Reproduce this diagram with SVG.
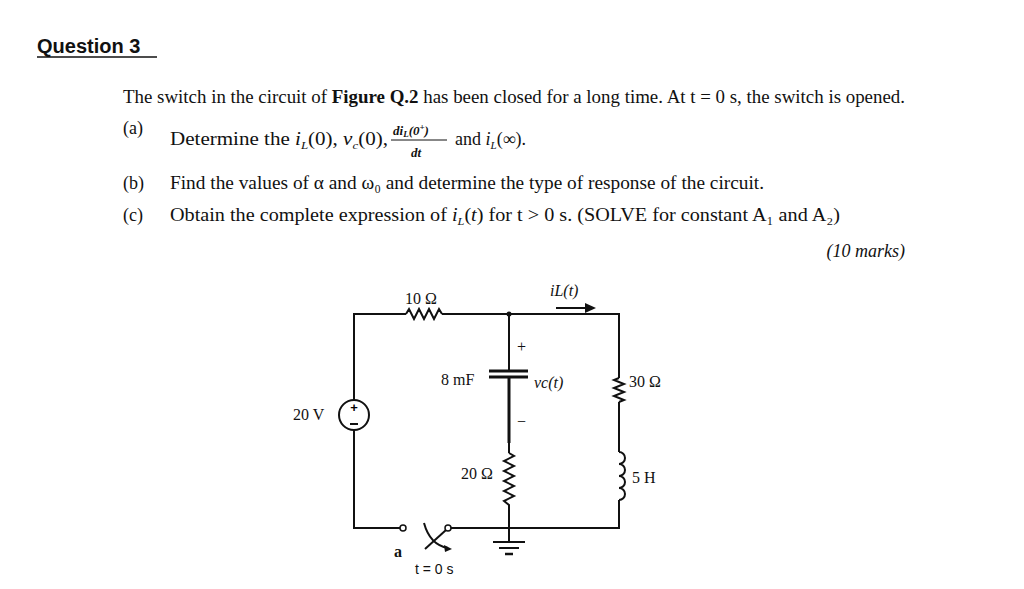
<svg xmlns="http://www.w3.org/2000/svg" width="1024" height="589" viewBox="0 0 1024 589">
<style>
.t{font-family:"Liberation Serif",serif;font-size:18px;fill:#111}
.w{stroke:#111;stroke-width:2;fill:none}
.c{font-family:"Liberation Serif",serif;font-size:16px;fill:#111}
</style>
<rect width="1024" height="589" fill="#fff"/>
<text x="37" y="53" font-family="Liberation Sans,sans-serif" font-size="20" font-weight="bold" fill="#111">Question 3</text>
<line x1="37" y1="57" x2="157" y2="57" stroke="#111" stroke-width="1.5"/>
<text class="t" x="123" y="103" textLength="782" lengthAdjust="spacingAndGlyphs">The switch in the circuit of <tspan font-weight="bold">Figure Q.2</tspan> has been closed for a long time. At t = 0 s, the switch is opened.</text>
<text class="t" x="123" y="134">(a)</text>
<text class="t" x="170" y="145" textLength="218" lengthAdjust="spacingAndGlyphs">Determine the <tspan font-style="italic">i</tspan><tspan font-style="italic" font-size="11" dy="4">L</tspan><tspan dy="-4">(0), </tspan><tspan font-style="italic">v</tspan><tspan font-style="italic" font-size="11" dy="4">c</tspan><tspan dy="-4">(0),</tspan></text>
<text x="393" y="135" font-family="Liberation Serif,serif" font-size="13" font-style="italic" font-weight="bold" fill="#111">di<tspan font-size="9" dy="2">L</tspan><tspan dy="-2">(0</tspan><tspan font-size="9" dy="-5">+</tspan><tspan dy="5">)</tspan></text>
<line x1="391" y1="140" x2="447" y2="140" stroke="#111" stroke-width="1"/>
<text x="411" y="157" font-family="Liberation Serif,serif" font-size="13" font-style="italic" font-weight="bold" fill="#111">dt</text>
<text class="t" x="455" y="145">and <tspan font-style="italic">i</tspan><tspan font-style="italic" font-size="11" dy="4">L</tspan><tspan dy="-4">(∞).</tspan></text>
<text class="t" x="123" y="189">(b)</text>
<text class="t" x="170" y="189" textLength="594" lengthAdjust="spacingAndGlyphs">Find the values of α and ω₀ and determine the type of response of the circuit.</text>
<text class="t" x="123" y="221">(c)</text>
<text class="t" x="170" y="221" textLength="670" lengthAdjust="spacingAndGlyphs">Obtain the complete expression of <tspan font-style="italic">i</tspan><tspan font-style="italic" font-size="11" dy="4">L</tspan><tspan dy="-4">(<tspan font-style="italic">t</tspan>) for t &gt; 0 s.  (SOLVE for constant A₁ and A₂)</tspan></text>
<text class="t" x="905" y="257" text-anchor="end" font-style="italic">(10 marks)</text>

<g id="connectors">
<path class="w" d="M354 400 V314 H406 M442 314 H619 V378 M619 402 V452 M619 500 V528 H448"/>
<path class="w" d="M354 430 V528 H400"/>
<path class="w" d="M509 314 V371 M509 377 V453 M509 510 V542"/>
<line x1="509" y1="377" x2="509" y2="443" stroke="#111" stroke-width="3"/>
<circle cx="509" cy="314" r="2.5" fill="#111"/>
</g>
<g id="r10"><path class="w" d="M406 314 l3 -5 l5 10 l5 -10 l5 10 l5 -10 l5 10 l5 -10 l3 5"/><text class="c" x="405" y="304">10 Ω</text></g>
<g id="source"><circle class="w" cx="354" cy="415" r="15"/><text x="354" y="412" text-anchor="middle" font-family="Liberation Sans,sans-serif" font-size="13" font-weight="bold">+</text><line x1="350" y1="424" x2="358" y2="424" stroke="#111" stroke-width="2"/><text class="c" x="293" y="420">20 V</text></g>
<g id="cap"><line x1="489" y1="371" x2="528" y2="371" stroke="#111" stroke-width="3"/><line x1="489" y1="377" x2="528" y2="377" stroke="#111" stroke-width="3"/><text class="c" x="441" y="385">8 mF</text><text class="c" x="517" y="352">+</text><text class="c" x="517" y="427">−</text><text class="c" x="534" y="388" font-style="italic" font-size="14">vc(t)</text></g>
<g id="r20"><path class="w" d="M509 453 l5 3 l-10 5 l10 5 l-10 5 l10 5 l-10 5 l10 5 l-10 5 l10 5 l-10 5 l5 4 V510"/><text class="c" x="461" y="479">20 Ω</text></g>
<g id="r30"><path class="w" d="M619 378 l-5 2 l10 4 l-10 4 l10 4 l-10 4 l10 4 l-5 2"/><text class="c" x="629" y="387">30 Ω</text></g>
<g id="ind"><path class="w" d="M619 452 a6 6 0 0 1 0 12 a6 6 0 0 1 0 12 a6 6 0 0 1 0 12 a6 6 0 0 1 0 12"/><text class="c" x="632" y="483">5 H</text></g>
<g id="gnd"><line x1="493" y1="542" x2="525" y2="542" stroke="#111" stroke-width="2"/><line x1="499" y1="548" x2="519" y2="548" stroke="#111" stroke-width="2"/><line x1="505" y1="554" x2="513" y2="554" stroke="#111" stroke-width="2.5"/></g>
<g id="switch"><circle cx="403" cy="528" r="3" fill="#fff" stroke="#111" stroke-width="1.5"/><circle cx="448" cy="528" r="3" fill="#fff" stroke="#111" stroke-width="1.5"/><path class="w" d="M446 530 L425 549"/><path class="w" d="M424 523 Q430 545 448 548"/><path d="M452 549 l-8 -4 l1 7z" fill="#111"/><text class="c" x="394" y="557" font-size="12" font-weight="bold">a</text><text x="415" y="574" font-family="Liberation Sans,sans-serif" font-size="14" fill="#111">t = 0 s</text></g>
<g id="il"><text class="c" x="550" y="296" font-style="italic" font-size="14">iL(t)</text><line x1="556" y1="308" x2="586" y2="308" stroke="#111" stroke-width="2"/><path d="M596 308 l-11 -5 v10z" fill="#111"/></g>
</svg>
